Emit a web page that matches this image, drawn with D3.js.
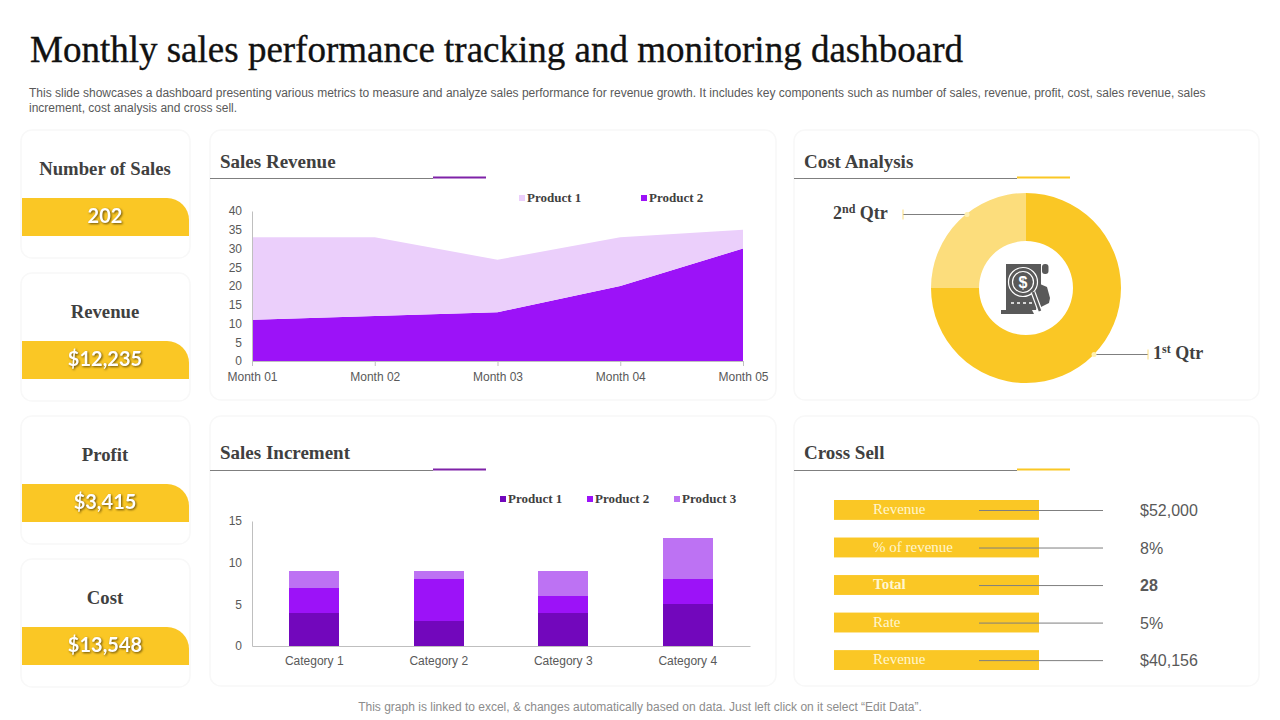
<!DOCTYPE html>
<html><head><meta charset="utf-8">
<script src="https://cdn.jsdelivr.net/npm/d3@7"></script>
<style>
html,body{margin:0;padding:0;background:#fff;overflow:hidden}
svg{display:block}
text{font-family:"Liberation Sans",Arial,sans-serif}
.serif{font-family:"Liberation Serif",serif}
.axis text{font-family:"Liberation Sans",Arial,sans-serif;font-size:12px;fill:#595959}
.axis path,.axis line{stroke:#bfbfbf}
</style></head><body>
<svg id="c" width="1280" height="720"></svg>
<script>
const titleText = "Monthly sales performance tracking and monitoring dashboard";
const subLines = [
 "This slide showcases a dashboard presenting various metrics to measure and analyze sales performance for revenue growth. It includes key components such as number of sales, revenue, profit, cost, sales revenue, sales",
 "increment, cost analysis and cross sell."];
const footerText = "This graph is linked to excel,  & changes automatically based on data. Just left click on it select “Edit Data”.";
const kpiNames = ["Number of Sales","Revenue","Profit","Cost"];
const kpiValues = ["202","$12,235","$3,415","$13,548"];
const months = ["Month 01","Month 02","Month 03","Month 04","Month 05"];
const revP1 = [22,21,14,13,5];
const revP2 = [11,12,13,20,30];
const categories = ["Category 1","Category 2","Category 3","Category 4"];
const incP1 = [4,3,4,5];
const incP2 = [3,5,2,3];
const incP3 = [2,1,3,5];
const costLabels = ["1st Qtr","2nd Qtr"];
const costValues = [75,25];
const crossLabels = ["Revenue","% of revenue","Total","Rate","Revenue"];
const crossValues = ["$52,000","8%","28","5%","$40,156"];

const YEL="#FAC725", YEL2="#FCDD7C", PURPLE="#7F22A8", INK="#404040";
const svg=d3.select("#c");

// header
svg.append("text").attr("class","serif").attr("x",30).attr("y",62).attr("font-size",37).attr("fill","#111")
  .attr("stroke","#111").attr("stroke-width",0.35).text(titleText);
svg.selectAll(".sub").data(subLines).join("text").attr("class","sub").attr("x",29)
  .attr("y",(d,i)=>97+i*14.5).attr("font-size",12).attr("fill","#595959").text(d=>d);
svg.append("text").attr("x",640).attr("y",711).attr("text-anchor","middle").attr("font-size",12).attr("fill","#8c8c8c").text(footerText);

// cards
function card(x,y,w,h){svg.append("rect").attr("x",x).attr("y",y).attr("width",w).attr("height",h).attr("rx",11)
  .attr("fill","#fff").attr("stroke","#f8f8f8").attr("stroke-width",1.5);}
const kpiTop=d3.scaleBand().domain(kpiNames).range([130,702]).paddingInner(0);
kpiNames.forEach((n,i)=>{
  const y=kpiTop(n);
  card(21,y,169,128);
  svg.append("text").attr("class","serif").attr("x",105).attr("y",y+45).attr("text-anchor","middle")
    .attr("font-size",18.7).attr("font-weight","bold").attr("fill",INK).text(n);
  const t=y+68,b=t+38;
  svg.append("path").attr("fill",YEL).attr("d",`M22 ${t}H167A22 22 0 0 1 189 ${t+22}V${b}H22Z`);
  svg.append("text").attr("x",105).attr("y",t+25).attr("text-anchor","middle")
    .style("font-family","Lato,sans-serif")
    .attr("font-size",20).attr("font-weight","bold").attr("fill","#fff")
    .style("filter","drop-shadow(1px 1.5px 1px rgba(70,50,0,.8))").text(kpiValues[i]);
});
function panel(x,y,w,h,title,accent,titleY,ruleY){
  card(x,y,w,h);
  svg.append("text").attr("class","serif").attr("x",x+10).attr("y",titleY).attr("font-size",19)
    .attr("font-weight","bold").attr("fill",INK).text(title);
  svg.append("line").attr("x1",x).attr("x2",x+223).attr("y1",ruleY).attr("y2",ruleY).attr("stroke","#7f7f7f").attr("stroke-width",1);
  svg.append("line").attr("x1",x+223).attr("x2",x+276).attr("y1",ruleY-1).attr("y2",ruleY-1).attr("stroke",accent).attr("stroke-width",2);
}
panel(210,130,566,270,"Sales Revenue",PURPLE,168,178.5);
panel(794,130,465,270,"Cost Analysis",YEL,168,178.5);
panel(210,416,566,270,"Sales Increment",PURPLE,459,470.5);
panel(794,416,465,270,"Cross Sell",YEL,459,470.5);

function legend(items,y){
  items.forEach(it=>{
    svg.append("rect").attr("x",it.x).attr("y",y-3).attr("width",6).attr("height",6).attr("fill",it.c);
    svg.append("text").attr("class","serif").attr("x",it.x+8).attr("y",y+4).attr("font-size",13)
      .attr("font-weight","bold").attr("fill",INK).text(it.n);
  });
}

// Sales Revenue area
const xA=d3.scalePoint().domain(months).range([252,743]);
const yA=d3.scaleLinear().domain([0,40]).range([361,211]);
const revRows=months.map((m,i)=>({m,p2:revP2[i],p1:revP1[i]}));
const revStack=d3.stack().keys(["p2","p1"])(revRows);
const areaGen=d3.area().x(d=>xA(d.data.m)).y0(d=>yA(d[0])).y1(d=>yA(d[1]));
svg.append("g").selectAll("path").data(revStack).join("path").attr("d",areaGen)
  .attr("fill",d=>d.key==="p2"?"#9C12F8":"#EBCFFB");
svg.append("g").attr("class","axis").attr("transform","translate(252,0)")
  .call(d3.axisLeft(yA).tickValues(d3.range(0,41,5)).tickSize(0).tickPadding(10));
svg.append("g").attr("class","axis").attr("transform","translate(0,361)")
  .call(d3.axisBottom(xA).tickSize(5).tickPadding(6));
legend([{x:519,c:"#EBCFFB",n:"Product 1"},{x:641,c:"#9C12F8",n:"Product 2"}],198);

// Sales Increment bars
const xB=d3.scaleBand().domain(categories).range([252,750]).paddingInner(0.6).paddingOuter(0.3);
const yB=d3.scaleLinear().domain([0,15]).range([646,521]);
const incRows=categories.map((c,i)=>({c,p1:incP1[i],p2:incP2[i],p3:incP3[i]}));
const incColor={p1:"#7207BC",p2:"#9C12F8",p3:"#BD72F3"};
svg.append("g").attr("shape-rendering","crispEdges").selectAll("g").data(d3.stack().keys(["p1","p2","p3"])(incRows)).join("g")
  .attr("fill",d=>incColor[d.key])
  .selectAll("rect").data(d=>d).join("rect")
  .attr("x",d=>xB(d.data.c)).attr("width",xB.bandwidth())
  .attr("y",d=>yB(d[1])).attr("height",d=>yB(d[0])-yB(d[1]));
svg.append("g").attr("class","axis").attr("transform","translate(252,0)")
  .call(d3.axisLeft(yB).tickValues([0,5,10,15]).tickSize(0).tickPadding(10));
svg.append("g").attr("class","axis").attr("transform","translate(0,646)")
  .call(d3.axisBottom(xB).tickSize(0).tickPadding(10));
legend([{x:500,c:"#7207BC",n:"Product 1"},{x:587,c:"#9C12F8",n:"Product 2"},{x:674,c:"#BD72F3",n:"Product 3"}],499);

// Cost Analysis donut
const cx=1026,cy=288;
const g=svg.append("g").attr("transform",`translate(${cx},${cy})`);
const pie=d3.pie().sort(null).value(d=>d);
const arc=d3.arc().innerRadius(47).outerRadius(95);
g.selectAll("path").data(pie(costValues)).join("path").attr("d",arc).attr("fill",(d,i)=>i?YEL2:YEL);
function leader(x1,x2,y){
  svg.append("line").attr("x1",x1).attr("x2",x2).attr("y1",y).attr("y2",y).attr("stroke","#7f7f7f");
  svg.append("line").attr("x1",x2).attr("x2",x2).attr("y1",y-5).attr("y2",y+5).attr("stroke",YEL2);
  svg.append("circle").attr("cx",x1).attr("cy",y).attr("r",2.5).attr("fill","#FFF0B0");
}
leader(967,903,214.5); leader(1094,1148,354.5);
function qtr(x,y,label){
  const m=label.match(/^(\d)(\w+) (.*)$/);
  const t=svg.append("text").attr("class","serif").attr("x",x).attr("y",y).attr("font-size",18).attr("font-weight","bold").attr("fill",INK);
  t.append("tspan").text(m[1]);
  t.append("tspan").attr("font-size",12).attr("dy",-6).text(m[2]);
  t.append("tspan").attr("dy",6).text(" "+m[3]);
}
qtr(1153,359,costLabels[0]); qtr(833,219,costLabels[1]);
// icon
const ic=svg.append("g");
const D="#595959";
ic.append("rect").attr("x",1006).attr("y",264).attr("width",35).attr("height",46).attr("fill",D);
ic.append("path").attr("fill","#fff").attr("d","M1036 310L1041 296H1041V310Z");
ic.append("path").attr("fill",D).attr("d","M1001 310H1032L1034 314H1001Z");
ic.append("rect").attr("x",1042).attr("y",264).attr("width",6.5).attr("height",10).attr("rx",3).attr("fill",D);
ic.append("path").attr("fill",D).attr("d","M1040 284L1047 287L1050 298L1049 303L1041 307L1037 298Z");
ic.append("circle").attr("cx",1023).attr("cy",282).attr("r",14.5).attr("fill",D).attr("stroke","#fff").attr("stroke-width",1.2);
ic.append("circle").attr("cx",1023).attr("cy",282).attr("r",10.5).attr("fill",D).attr("stroke","#fff").attr("stroke-width",1.2);
ic.append("line").attr("x1",1033).attr("y1",292).attr("x2",1040).attr("y2",311).attr("stroke","#fff").attr("stroke-width",5);
ic.append("line").attr("x1",1033).attr("y1",292).attr("x2",1040).attr("y2",311).attr("stroke",D).attr("stroke-width",2.5);
ic.append("line").attr("x1",1011).attr("x2",1033).attr("y1",303).attr("y2",303).attr("stroke","#fff").attr("stroke-width",1.5).attr("stroke-dasharray","3 3");
ic.append("text").attr("x",1023).attr("y",288).attr("text-anchor","middle").attr("font-size",16).attr("font-weight","bold").attr("fill","#fff").text("$");

// Cross Sell
const yC=d3.scaleBand().domain(d3.range(crossLabels.length)).range([500,670]).paddingInner(0.47);
const xC=d3.scaleLinear().domain([0,1]).range([834,1039]);
crossLabels.forEach((l,i)=>{
  const y=yC(i),h=yC.bandwidth(),bold=l==="Total";
  svg.append("rect").attr("x",xC(0)).attr("y",y).attr("width",xC(1)-xC(0)).attr("height",h).attr("fill",YEL);
  svg.append("text").attr("class","serif").attr("x",873).attr("y",y+14).attr("font-size",15)
    .attr("font-weight",bold?"bold":null).attr("fill","#FFF6D0").text(l);
  svg.append("line").attr("x1",979).attr("x2",1103).attr("y1",y+10.5).attr("y2",y+10.5).attr("stroke","#7f7f7f");
  svg.append("text").attr("x",1140).attr("y",y+16).attr("font-size",16)
    .attr("font-weight",bold?"bold":null).attr("fill","#595959").text(crossValues[i]);
});
</script></body></html>
